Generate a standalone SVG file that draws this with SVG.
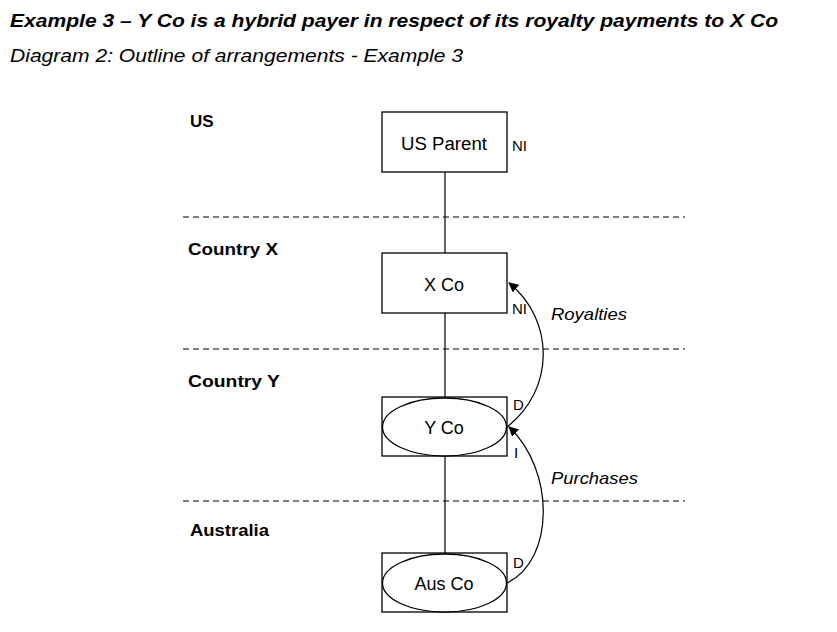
<svg xmlns="http://www.w3.org/2000/svg" width="837" height="632" viewBox="0 0 837 632">
<style>
.t{font-family:"Liberation Sans",Arial,sans-serif;fill:#000}
.box{fill:#fff;stroke:#000;stroke-width:1.3}
.dash{stroke:#000;stroke-width:1.2;stroke-dasharray:6,4}
.ln{stroke:#000;stroke-width:1.2;fill:none}
</style>
<defs><marker id="ah" markerWidth="10" markerHeight="10" refX="9" refY="5" orient="auto" markerUnits="userSpaceOnUse"><path d="M0,0 L10,5 L0,10 z" fill="#000"/></marker></defs>
<rect width="837" height="632" fill="#fff"/>
<text class="t" x="10" y="27" font-size="19" font-weight="bold" font-style="italic" textLength="768" lengthAdjust="spacingAndGlyphs">Example 3 – Y Co is a hybrid payer in respect of its royalty payments to X Co</text>
<text class="t" x="10" y="62" font-size="19" font-style="italic" textLength="453" lengthAdjust="spacingAndGlyphs">Diagram 2: Outline of arrangements - Example 3</text>
<g id="regions">
<text class="t" x="190" y="127" font-size="17" font-weight="bold">US</text>
<text class="t" x="188" y="255" font-size="17" font-weight="bold" textLength="90" lengthAdjust="spacingAndGlyphs">Country X</text>
<text class="t" x="188" y="387" font-size="17" font-weight="bold" textLength="92" lengthAdjust="spacingAndGlyphs">Country Y</text>
<text class="t" x="190" y="536" font-size="17" font-weight="bold" textLength="79" lengthAdjust="spacingAndGlyphs">Australia</text>
<line class="dash" x1="183" y1="217" x2="685" y2="217"/>
<line class="dash" x1="183" y1="349" x2="685" y2="349"/>
<line class="dash" x1="183" y1="501" x2="685" y2="501"/>
</g>
<g id="connectors">
<line class="ln" x1="445" y1="172" x2="445" y2="553"/>
<path class="ln" d="M507,427 C555,390 555,320 509,283" marker-end="url(#ah)"/>
<path class="ln" d="M507,583 C555,560 555,470 509,427" marker-end="url(#ah)"/>
<text class="t" x="551" y="320" font-size="17" font-style="italic" textLength="76" lengthAdjust="spacingAndGlyphs">Royalties</text>
<text class="t" x="551" y="484" font-size="17" font-style="italic" textLength="87" lengthAdjust="spacingAndGlyphs">Purchases</text>
</g>
<g id="usparent">
<rect class="box" x="382" y="112" width="125" height="60"/>
<text class="t" x="444" y="150" font-size="18" text-anchor="middle" textLength="86" lengthAdjust="spacingAndGlyphs">US Parent</text>
<text class="t" x="512" y="151" font-size="15">NI</text>
</g>
<g id="xco">
<rect class="box" x="382" y="253" width="125" height="60"/>
<text class="t" x="444" y="291" font-size="18" text-anchor="middle">X Co</text>
<text class="t" x="512" y="314" font-size="15">NI</text>
</g>
<g id="yco">
<rect class="box" x="382" y="397" width="125" height="59"/>
<ellipse class="box" cx="444.5" cy="427" rx="62" ry="29"/>
<text class="t" x="444" y="434" font-size="18" text-anchor="middle">Y Co</text>
<text class="t" x="513" y="410" font-size="15">D</text>
<text class="t" x="514" y="458" font-size="15">I</text>
</g>
<g id="ausco">
<rect class="box" x="382" y="553" width="125" height="59"/>
<ellipse class="box" cx="444.5" cy="583" rx="62" ry="29"/>
<text class="t" x="444" y="590" font-size="18" text-anchor="middle">Aus Co</text>
<text class="t" x="513" y="568" font-size="15">D</text>
</g>
</svg>
